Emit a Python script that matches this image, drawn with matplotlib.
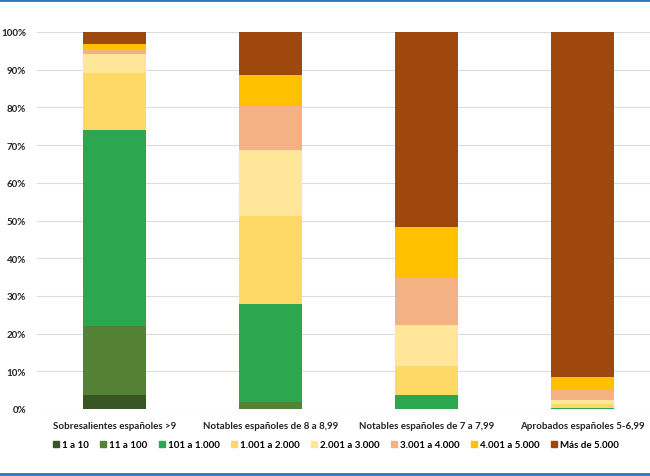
import numpy as np
import matplotlib.pyplot as plt
from matplotlib.lines import Line2D

# categories and share (%) of each size band
categories = ['Sobresalientes españoles >9', 'Notables españoles de 8 a 8,99',
              'Notables españoles de 7 a 7,99', 'Aprobados españoles 5-6,99']
bands = ['1 a 10', '11 a 100', '101 a 1.000', '1.001 a 2.000', '2.001 a 3.000',
         '3.001 a 4.000', '4.001 a 5.000', 'Más de 5.000']
s_1_10 = [3.7, 0.0, 0.0, 0.0]
s_11_100 = [18.4, 1.9, 0.0, 0.0]
s_101_1000 = [52.0, 26.0, 3.7, 0.3]
s_1001_2000 = [15.0, 23.4, 7.6, 0.9]
s_2001_3000 = [5.0, 17.5, 11.0, 1.2]
s_3001_4000 = [1.5, 11.7, 12.4, 2.6]
s_4001_5000 = [1.3, 8.1, 13.7, 3.6]
s_mas_5000 = [3.1, 11.4, 51.6, 91.4]

series = [s_1_10, s_11_100, s_101_1000, s_1001_2000, s_2001_3000,
          s_3001_4000, s_4001_5000, s_mas_5000]
colors = ['#375623', '#548235', '#2CA64F', '#FFD966', '#FFE699',
          '#F4B183', '#FFC000', '#9E480E']

plt.rcParams['font.family'] = ['Lato', 'DejaVu Sans']

fig = plt.figure(figsize=(6.5, 4.77), dpi=100)
ax = fig.add_axes([37 / 650, 1 - 410 / 477, 623 / 650, 377 / 477])

x = np.arange(len(categories))
bottom = np.zeros(len(categories))
for vals, col, lab in zip(series, colors, bands):
    ax.bar(x, vals, bottom=bottom, width=0.405, color=col, label=lab, zorder=2)
    bottom += np.array(vals)

ax.set_xlim(-0.5, 3.5)
ax.set_ylim(0, 100)
ax.set_yticks(np.arange(0, 101, 10))
ax.set_yticklabels([f'{v}%' for v in range(0, 101, 10)])
ax.set_xticks(x)
ax.set_xticklabels(categories)
ax.tick_params(axis='both', length=0, labelsize=7, colors='#222222')
ax.tick_params(axis='y', pad=8)
ax.tick_params(axis='x', pad=9)
for t in ax.get_xticklabels() + ax.get_yticklabels():
    t.set_fontweight('bold')
ax.grid(axis='y', color='#DCDCDC', lw=0.8, zorder=0)
for sp in ax.spines.values():
    sp.set_visible(False)

handles = [plt.Rectangle((0, 0), 1, 1, color=c) for c in colors]
leg = fig.legend(handles, bands, loc='center', bbox_to_anchor=(336 / 650, 1 - 446 / 477),
                 ncol=8, frameon=False, handlelength=0.6, handleheight=0.6,
                 handletextpad=0.3, columnspacing=1.2,
                 prop={'size': 7, 'weight': 'bold'})

# blue rules at top and bottom
fig.add_artist(Line2D([0, 1], [1 - 1 / 477, 1 - 1 / 477], color='#2E75B6', lw=2))
fig.add_artist(Line2D([0, 1], [1 - 475 / 477, 1 - 475 / 477], color='#2E75B6', lw=2))

fig.savefig('out.png', dpi=100)
